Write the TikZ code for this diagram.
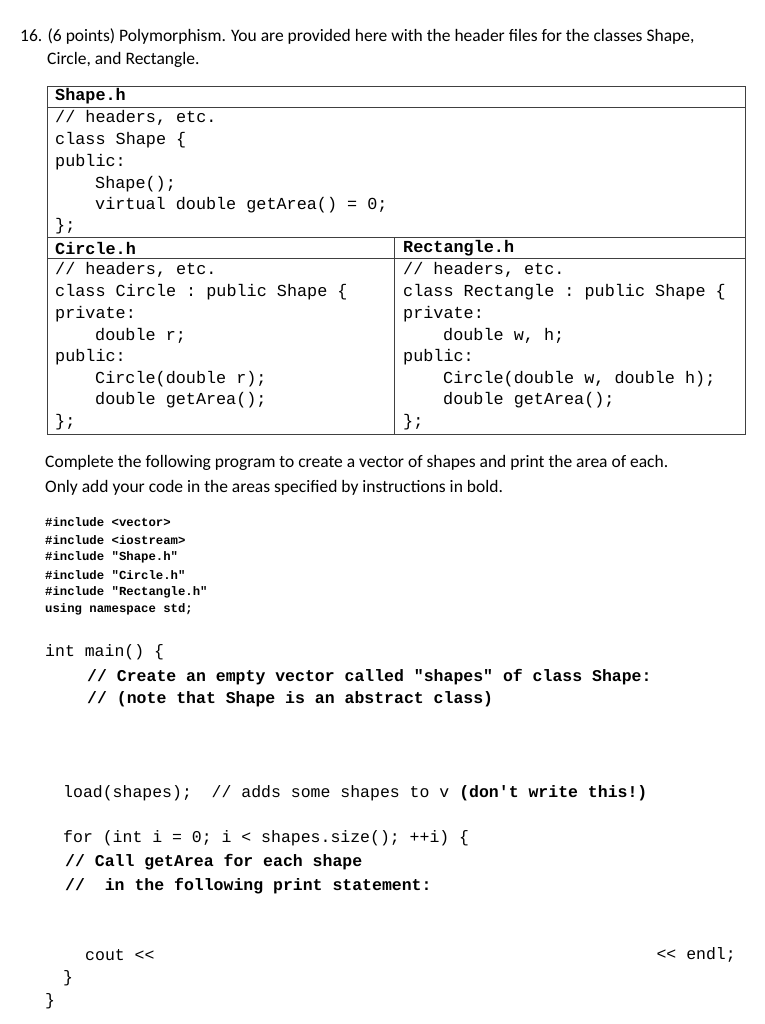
\documentclass[tikz,border=0pt]{standalone}
\usepackage{fontspec}
\setmainfont{Carlito}
\setmonofont{Liberation Mono}
\begin{document}
\begin{tikzpicture}[x=1pt,y=-1pt,
  hd/.style={anchor=west,inner sep=0pt,font=\fontsize{17.5}{20}\selectfont},
  cd/.style={anchor=west,inner sep=0pt,font=\fontsize{16.8}{20}\ttfamily},
  sm/.style={anchor=west,inner sep=0pt,font=\fontsize{12.3}{14}\ttfamily\bfseries},
  mc/.style={anchor=west,inner sep=0pt,font=\fontsize{16.5}{20}\ttfamily},
  bx/.style={draw=black!75,line width=0.9pt}]
\useasboundingbox (0,0) rectangle (764,1024);
\node[hd] (h1) at (20,37) {16. (6 points) Polymorphism. You are provided here with the header files for the classes Shape,};
\node[hd] (h2) at (47,60) {Circle, and Rectangle.};
% boxes
\draw[bx] (47,86) rectangle (745,434);
\draw[bx] (47,107) -- (745,107);
\draw[bx] (47,237) -- (745,237);
\draw[bx] (47,258) -- (745,258);
\draw[bx] (394,237) -- (394,434);
\node[cd,font=\fontsize{16.8}{20}\ttfamily\bfseries] (sh) at (55,96) {Shape.h};
\node[cd] (s1) at (55,118) {// headers, etc.};
\node[cd] (s2) at (55,140) {class Shape \{};
\node[cd] (s3) at (55,162) {public:};
\node[cd] (s4) at (95,184) {Shape();};
\node[cd] (s5) at (95,205) {virtual double getArea() = 0;};
\node[cd] (s6) at (55,226) {\};};
\node[cd,font=\fontsize{16.8}{20}\ttfamily\bfseries] (ch) at (55,248) {Circle.h};
\node[cd] (c1) at (55,270) {// headers, etc.};
\node[cd] (c2) at (55,292) {class Circle : public Shape \{};
\node[cd] (c3) at (55,314) {private:};
\node[cd] (c4) at (95,336) {double r;};
\node[cd] (c5) at (55,357) {public:};
\node[cd] (c6) at (95,379) {Circle(double r);};
\node[cd] (c7) at (95,400) {double getArea();};
\node[cd] (c8) at (55,422) {\};};
\node[cd,font=\fontsize{16.8}{20}\ttfamily\bfseries] (rh) at (403,248) {Rectangle.h};
\node[cd] (r1) at (403,270) {// headers, etc.};
\node[cd] (r2) at (403,292) {class Rectangle : public Shape \{};
\node[cd] (r3) at (403,314) {private:};
\node[cd] (r4) at (443,336) {double w, h;};
\node[cd] (r5) at (403,357) {public:};
\node[cd] (r6) at (443,379) {Circle(double w, double h);};
\node[cd] (r7) at (443,400) {double getArea();};
\node[cd] (r8) at (403,422) {\};};
\node[hd] (p1) at (45,463) {Complete the following program to create a vector of shapes and print the area of each.};
\node[hd] (p2) at (45,488) {Only add your code in the areas specified by instructions in bold.};
\node[sm] (i1) at (45,522) {\#include <vector>};
\node[sm] (i2) at (45,540) {\#include <iostream>};
\node[sm] (i3) at (45,557) {\#include "Shape.h"};
\node[sm] (i4) at (45,575) {\#include "Circle.h"};
\node[sm] (i5) at (45,592) {\#include "Rectangle.h"};
\node[sm] (i6) at (45,609) {using namespace std;};
\node[mc] (m1) at (45,652) {int main() \{};
\node[mc,font=\fontsize{16.5}{20}\ttfamily\bfseries] (m2) at (87,677) {// Create an empty vector called "shapes" of class Shape:};
\node[mc,font=\fontsize{16.5}{20}\ttfamily\bfseries] (m3) at (87,699) {// (note that Shape is an abstract class)};
\node[mc] (m4) at (63,793) {load(shapes);\ \ // adds some shapes to v \textbf{(don't write this!)}};
\node[mc] (m5) at (63,838) {for (int i = 0; i < shapes.size(); ++i) \{};
\node[mc,font=\fontsize{16.5}{20}\ttfamily\bfseries] (m6) at (65,862) {// Call getArea for each shape};
\node[mc,font=\fontsize{16.5}{20}\ttfamily\bfseries] (m7) at (65,886) {//\ \ in the following print statement:};
\node[mc] (m8) at (85,955) {cout <<};
\node[mc,anchor=east] (m9) at (736,955) {<< endl;};
\node[mc] (m10) at (63,978) {\}};
\node[mc] (m11) at (45,1001) {\}};
\end{tikzpicture}
\end{document}
